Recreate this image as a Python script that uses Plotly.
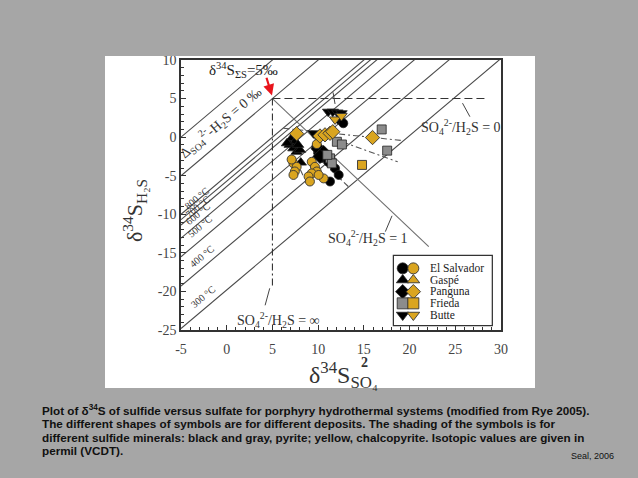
import plotly.graph_objects as go

# ---------------- data ----------------
# isotherm lines: d34S(H2S) = d34S(SO4) - delta
iso_delta = [-5, 0, 5.0, 5.7, 6.4, 8.1, 10.5, 14.3, 19.8]
iso_labels = ["800 °C", "700 °C", "600 °C", "500 °C", "400 °C", "300 °C"]

sum_S = 5.0            # d34S of total sulfur
ratio_inf_end = -19.3  # end of SO4/H2S = inf line
ratio_zero_end = 28.3  # end of SO4/H2S = 0 line
ratio_one_end_x = 22.1
ratio_one_end_y = -14.2

mix_x = [[6.2, 19.3], [9.8, 18.7], [9.5, 13.3], [7.4, 8.4]]
mix_y = [[1.15, -0.45], [0.6, -3.2], [-2.1, -6.4], [-2.6, -5.1]]

deposits = ["El Salvador", "Gaspé", "Panguna", "Frieda", "Butte"]
symbols = ["circle", "triangle-up", "diamond", "square", "triangle-down"]

py_x = {
    "El Salvador": [12.4, 12.75, 10.0, 10.4, 11.1, 11.85, 12.25, 11.3, 9.8],
    "Gaspé": [7.1, 7.45, 6.9, 7.3, 7.65, 8.0, 8.1, 6.6, 7.8],
    "Panguna": [10.0, 10.6, 10.2],
    "Frieda": [12.05, 12.6, 11.3, 11.5, 16.95, 17.55, 11.0],
    "Butte": [11.1, 11.6, 12.1, 12.55, 9.5],
}
py_y = {
    "El Salvador": [2.2, 1.8, -2.0, -2.7, -3.2, -4.05, -4.9, -5.75, -1.3],
    "Gaspé": [-0.15, -0.6, -1.0, -1.45, -1.9, -1.65, -3.3, -0.8, -1.0],
    "Panguna": [-1.5, -2.0, -2.5],
    "Frieda": [-0.6, -0.95, -2.75, -3.4, 1.0, -1.75, -2.3],
    "Butte": [3.3, 3.3, 3.2, 3.1, 0.5],
}
cp_x = {
    "El Salvador": [7.3, 7.65, 7.45, 7.3, 9.3, 9.65, 9.85, 9.3, 8.95, 9.1, 10.6, 10.05, 9.85, 7.1],
    "Gaspé": [],
    "Panguna": [7.65, 10.2, 10.75, 11.3, 11.6, 15.95],
    "Frieda": [14.8],
    "Butte": [11.85, 12.55],
}
cp_y = {
    "El Salvador": [-3.4, -3.85, -4.45, -4.9, -3.2, -3.85, -4.45, -4.7, -5.1, -5.75, -5.35, -4.9, -0.9, -2.9],
    "Gaspé": [],
    "Panguna": [0.45, 0.15, 0.3, 0.5, 0.7, -0.05],
    "Frieda": [-3.6],
    "Butte": [2.3, 2.75],
}

x_ticks = [-5, 0, 5, 10, 15, 20, 25, 30]
y_ticks = [-25, -20, -15, -10, -5, 0, 5, 10]

# ---------------- style ----------------
YELLOW = "#DAA520"
GRAY = "#8c8c8c"
LINEC = "#4a4a4a"
BG = "#a6a6a6"
SERIF = "Liberation Serif, DejaVu Serif, serif"
CAPF = "Liberation Sans, Arial, sans-serif"
XMIN, XMAX, YMIN, YMAX = -5, 30, -25, 10
L, R, T, B = 181, 501, 60, 330   # plot area in px
W, H = 638, 478


def px(xp):
    return (xp - L) / (R - L)


def py(yp):
    return (B - yp) / (B - T)


fig = go.Figure()

# isotherms
for d in iso_delta:
    fig.add_trace(go.Scatter(x=[XMIN, XMAX], y=[XMIN - d, XMAX - d], mode="lines",
                             line=dict(color=LINEC, width=1.1), hoverinfo="skip"))

# SO4/H2S = 1
fig.add_trace(go.Scatter(x=[sum_S, ratio_one_end_x], y=[sum_S, ratio_one_end_y], mode="lines",
                         line=dict(color="#6e6e6e", width=1.1), hoverinfo="skip"))
# SO4/H2S = inf (vertical) and = 0 (horizontal)
fig.add_trace(go.Scatter(x=[sum_S, sum_S], y=[sum_S, ratio_inf_end], mode="lines",
                         line=dict(color="#333", width=1.1, dash="7px,3px,2px,3px"), hoverinfo="skip"))
fig.add_trace(go.Scatter(x=[sum_S, ratio_zero_end], y=[sum_S, sum_S], mode="lines",
                         line=dict(color="#333", width=1.1, dash="8px,4px"), hoverinfo="skip"))

# mixing / trend lines
for mx, my in zip(mix_x, mix_y):
    fig.add_trace(go.Scatter(x=mx, y=my, mode="lines",
                             line=dict(color="#555", width=1.1, dash="6px,3px,2px,3px"), hoverinfo="skip"))

# data points
sizes = {"circle": 9, "triangle-up": 10, "diamond": 11, "square": 9, "triangle-down": 10}
for dep, sym in zip(deposits, symbols):
    pcol = GRAY if dep == "Frieda" else "black"
    fig.add_trace(go.Scatter(x=py_x[dep], y=py_y[dep], mode="markers", name=dep + " pyrite",
                             marker=dict(symbol=sym, size=sizes[sym], color=pcol,
                                         line=dict(color="#222", width=0.8))))
for dep, sym in zip(deposits, symbols):
    fig.add_trace(go.Scatter(x=cp_x[dep], y=cp_y[dep], mode="markers", name=dep + " chalcopyrite",
                             marker=dict(symbol=sym, size=sizes[sym], color=YELLOW,
                                         line=dict(color="#333", width=0.9))))

# manual legend (two swatches per deposit)
n = len(deposits)
rows = [n - 1 - i for i in range(n)]
fig.add_trace(go.Scatter(x=[0] * n, y=rows, mode="markers", xaxis="x2", yaxis="y2",
                         marker=dict(symbol=symbols, size=11,
                                     color=[GRAY if d == "Frieda" else "black" for d in deposits],
                                     line=dict(color="#222", width=0.8)), hoverinfo="skip"))
fig.add_trace(go.Scatter(x=[1] * n, y=rows, mode="markers", xaxis="x2", yaxis="y2",
                         marker=dict(symbol=symbols, size=11, color=YELLOW,
                                     line=dict(color="#333", width=0.9)), hoverinfo="skip"))

annotations = []
for dep, r in zip(deposits, rows):
    annotations.append(dict(x=2.4, y=r, xref="x2", yref="y2", text=dep, showarrow=False,
                            xanchor="left", yanchor="middle",
                            font=dict(family=SERIF, size=11.5, color="#222")))

# isotherm labels
lab_x = [-3.3, -3.15, -3.1, -2.95, -2.75, -2.55]
lab_y = [-8.0, -9.05, -9.95, -11.6, -15.5, -20.7]
for t, lx, ly in zip(iso_labels, lab_x, lab_y):
    annotations.append(dict(x=lx, y=ly, text=t, showarrow=False, textangle=-40,
                            font=dict(family=SERIF, size=10, color="#333")))

# text labels on chart
annotations += [
    dict(x=-0.6, y=1.9, text="Δ<sub>SO</sub><sub>4</sub><sup>2-</sup>-H<sub>2</sub>S = 0 ‰",
         showarrow=False, textangle=-40, font=dict(family=SERIF, size=14, color="#333")),
    dict(x=1.8, y=8.7, text="δ<sup>34</sup>S<sub>ΣS</sub>=5‰", showarrow=False,
         font=dict(family=SERIF, size=15, color="#222")),
    dict(x=25.6, y=1.36, text="SO<sub>4</sub><sup>2-</sup>/H<sub>2</sub>S = 0", showarrow=False,
         font=dict(family=SERIF, size=14, color="#333")),
    dict(x=15.5, y=-13.1, text="SO<sub>4</sub><sup>2-</sup>/H<sub>2</sub>S = 1", showarrow=False,
         font=dict(family=SERIF, size=14, color="#333")),
    dict(x=5.65, y=-23.7, text="SO<sub>4</sub><sup>2-</sup>/H<sub>2</sub>S = ∞", showarrow=False,
         font=dict(family=SERIF, size=14, color="#333")),
    # leaders
    dict(x=26.6, y=2.65, ax=25.7, ay=4.6, axref="x", ayref="y", text="", showarrow=True,
         arrowhead=0, arrowwidth=1, arrowcolor="#444"),
    dict(x=17.35, y=-12.25, ax=18.15, ay=-10.0, axref="x", ayref="y", text="", showarrow=True,
         arrowhead=0, arrowwidth=1, arrowcolor="#444"),
    dict(x=4.2, y=-21.8, ax=4.75, ay=-19.4, axref="x", ayref="y", text="", showarrow=True,
         arrowhead=0, arrowwidth=1, arrowcolor="#444"),
    dict(x=11.85, y=4.3, ax=11.6, ay=6.0, axref="x", ayref="y", text="", showarrow=True,
         arrowhead=0, arrowwidth=1, arrowcolor="#444"),
    # red arrow
    dict(x=4.95, y=5.4, ax=4.3, ay=7.9, axref="x", ayref="y", text="", showarrow=True,
         arrowhead=2, arrowsize=1, arrowwidth=2.2, arrowcolor="#e8141c"),
    # axis titles
    dict(x=px(134), y=py(211), xref="paper", yref="paper", text="δ<sup>34</sup>S<sub>H₂S</sub>",
         xanchor="center", yanchor="middle",
         showarrow=False, textangle=-90, font=dict(family=SERIF, size=22, color="#333")),
    dict(x=px(343), y=py(375), xref="paper", yref="paper", text="δ<sup>34</sup>S<sub>SO₄</sub>",
         xanchor="center", yanchor="middle",
         showarrow=False, font=dict(family=SERIF, size=24, color="#333")),
    dict(x=px(364), y=py(362), xref="paper", yref="paper", text="<b>2</b>",
         xanchor="center", yanchor="middle",
         showarrow=False, font=dict(family=SERIF, size=14, color="#333")),
]

# caption
cap_lines = [
    "Plot of δ<sup>34</sup>S of sulfide versus sulfate for porphyry hydrothermal systems (modified from Rye 2005).",
    "The different shapes of symbols are for different deposits. The shading of the symbols is for",
    "different sulfide minerals: black and gray, pyrite; yellow, chalcopyrite. Isotopic values are given in",
    "permil (VCDT).",
]
for i, t in enumerate(cap_lines):
    annotations.append(dict(x=px(40), y=py(410 + 13.6 * i), xref="paper", yref="paper",
                            text="<b>" + t + "</b>", showarrow=False, xanchor="left",
                            yanchor="middle", font=dict(family=CAPF, size=11.7, color="#111")))
annotations.append(dict(x=px(616), y=py(456), xref="paper", yref="paper", text="Seal, 2006",
                        showarrow=False, xanchor="right", yanchor="middle",
                        font=dict(family=CAPF, size=9, color="#111")))

shapes = [
    dict(type="rect", xref="paper", yref="paper", x0=px(105), x1=px(535), y0=py(388), y1=py(56),
         fillcolor="white", line=dict(width=0), layer="below"),
    dict(type="rect", xref="paper", yref="paper", x0=px(394), x1=px(491.7), y0=py(325), y1=py(256),
         fillcolor="white", line=dict(color="#333", width=2.5), layer="below"),
    dict(type="rect", xref="paper", yref="paper", x0=px(397), x1=px(488.7), y0=py(322), y1=py(259),
         fillcolor="rgba(0,0,0,0)", line=dict(color="#555", width=0.8), layer="below"),
    # slide background over the top of the picture (clips the "10" label like the original)
    dict(type="rect", xref="paper", yref="paper", x0=px(100), x1=px(540), y0=py(56), y1=py(40),
         fillcolor=BG, line=dict(width=0), layer="above"),
]

axis_common = dict(showline=True, linecolor="#333", linewidth=1.5, mirror=True, ticks="inside",
                   ticklen=5, tickwidth=1, tickcolor="#333", showgrid=False, zeroline=False,
                   tickfont=dict(family=SERIF, size=14, color="#444"),
                   minor=dict(ticks="inside", ticklen=3, dtick=1, tickcolor="#333", showgrid=False))

fig.update_layout(
    width=W, height=H, margin=dict(l=L, r=W - R, t=T, b=H - B),
    paper_bgcolor=BG, plot_bgcolor="white", showlegend=False,
    xaxis=dict(range=[XMIN, XMAX], tickvals=x_ticks, ticktext=[str(v) for v in x_ticks],
               ticklabelstandoff=5, **axis_common),
    yaxis=dict(range=[YMIN, YMAX], tickvals=y_ticks, ticktext=[str(v) for v in y_ticks], **axis_common),
    xaxis2=dict(domain=[px(394), px(491.7)], range=[-0.817, 8.36], visible=False, anchor="y2"),
    yaxis2=dict(domain=[py(325), py(256)], range=[-0.858, 5.06], visible=False, anchor="x2"),
    annotations=annotations, shapes=shapes,
)

fig.write_html("out.html", config={"displayModeBar": False},
               post_script="document.body.style.margin='0';document.body.style.overflow='hidden';")
